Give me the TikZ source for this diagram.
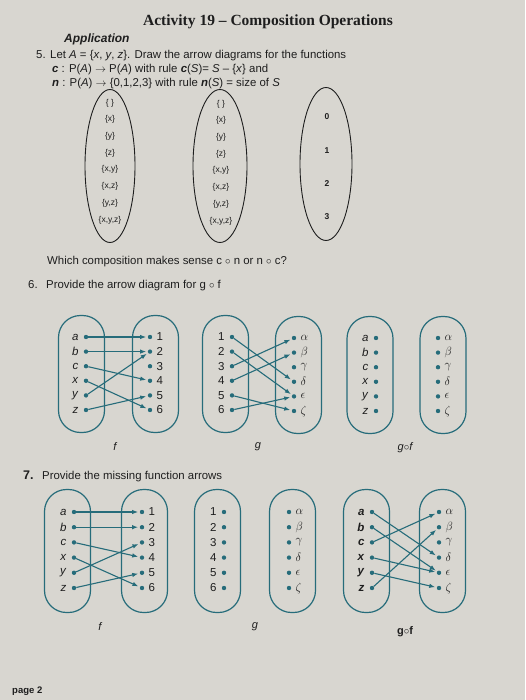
\documentclass[tikz,border=0pt]{standalone}
\usepackage{fontspec}
\setmainfont{Liberation Sans}
\newfontfamily\titlefont{Liberation Serif}
\usetikzlibrary{calc}
\usetikzlibrary{shapes,arrows,arrows.meta}
\usetikzlibrary{positioning}
\definecolor{paper}{RGB}{216,214,208}
\definecolor{setblue}{RGB}{38,108,122}
\definecolor{ink}{RGB}{30,30,30}
\tikzstyle{bag}=[draw=setblue, line width=1.2pt, rounded corners=22pt, minimum width=46pt]
\tikzstyle{elt}=[circle, fill=setblue, inner sep=0pt, minimum size=4.4pt]
\tikzstyle{mp}=[-{Latex[length=6pt,width=4.5pt]}, draw=setblue, line width=1.1pt, shorten >=1.5pt]
\tikzstyle{lbl}=[inner sep=0pt, font=\fontsize{11.5}{13}\selectfont, text=ink]
\tikzstyle{oval}=[ellipse, draw=ink, line width=0.9pt, minimum height=153pt]
\tikzstyle{setlbl}=[inner sep=0pt, font=\fontsize{8.5}{10}\selectfont, text=ink]
\tikzstyle{txt}=[anchor=base west, inner sep=0pt, font=\fontsize{11.4}{13}\selectfont, text=ink]

\begin{document}
\begin{tikzpicture}[x=1pt,y=-1pt]
\useasboundingbox (0,0) rectangle (525,700);
\fill[paper] (0,0) rectangle (525,700);

% heading and question 5
\node[font=\titlefont\bfseries\fontsize{15.5}{18}\selectfont, text=ink] (title) at (268,22) {Activity 19 – Composition Operations};
\node[txt, font=\bfseries\itshape\fontsize{12}{14}\selectfont] (appl) at (64,43) {Application};
\node[txt] (q5) at (36,59) {5.};
\node[txt] (q5a) at (50,59) {Let \textit{A} = \{\textit{x}, \textit{y}, \textit{z}\}. Draw the arrow diagrams for the functions};
\node[txt] (q5b) at (52,73) {\textbf{\textit{c}} : P(\textit{A}) $\rightarrow$ P(\textit{A}) with rule \textbf{\textit{c}}(\textit{S})= \textit{S} – \{\textit{x}\} and};
\node[txt] (q5c) at (52,87) {\textbf{\textit{n}} : P(\textit{A}) $\rightarrow$ \{0,1,2,3\} with rule \textbf{\textit{n}}(\textit{S}) = size of \textit{S}};

\node[oval, minimum width=50pt] (pa1) at (110,166) {};
\node[oval, minimum width=54pt] (pa2) at (220,166) {};
\node[oval, minimum width=52pt] (card) at (326,164) {};
\foreach \s [count=\i from 0] in {{\{ \}},{\{x\}},{\{y\}},{\{z\}},{\{x,y\}},{\{x,z\}},{\{y,z\}},{\{x,y,z\}}} {
  \node[setlbl] (pa1s\i) at (110,103+16.7*\i) {\s};
  \node[setlbl] (pa2s\i) at (221,104+16.7*\i) {\s};
}
\foreach \i in {0,...,3}
  \node[setlbl, font=\bfseries\fontsize{8.5}{10}\selectfont] (card\i) at (327,117+33.3*\i) {\i};

\node[txt] (q5d) at (47,264) {Which composition makes sense c $\circ$ n or n $\circ$ c?};

% question 6
\node[txt] (q6) at (28,288) {6.};
\node[txt] (q6a) at (46,288) {Provide the arrow diagram for g $\circ$ f};

\node[bag, minimum height=117pt] (f6dom) at (81.5,374) {};
\node[bag, minimum height=117pt] (f6cod) at (155.5,374) {};
\node[bag, minimum height=117pt] (g6dom) at (225.5,374) {};
\node[bag, minimum height=117pt] (g6cod) at (298.5,375) {};
\node[bag, minimum height=117pt] (gf6dom) at (370,375) {};
\node[bag, minimum height=117pt] (gf6cod) at (443,375) {};

\foreach \l [count=\i from 0] in {a,b,c,x,y,z} {
  \node[elt] (f6\l) at (86,337+14.6*\i) {};
  \node[lbl, left=5pt of f6\l] {\textit{\l}};
  \node[elt] (gf6\l) at (376,338+14.6*\i) {};
  \node[lbl, left=5pt of gf6\l] {\textit{\l}};
}
\foreach \i [count=\j from 0] in {1,...,6} {
  \node[elt] (f6n\i) at (150,337+14.6*\j) {};
  \node[lbl, right=4pt of f6n\i] {\i};
  \node[elt] (g6n\i) at (232,337+14.6*\j) {};
  \node[lbl, left=5pt of g6n\i] {\i};
}
\foreach \g [count=\i from 1] in {\alpha,\beta,\gamma,\delta,\epsilon,\zeta} {
  \node[elt] (g6c\i) at (294,{338+14.6*(\i-1)}) {};
  \node[lbl, right=4pt of g6c\i] {$\g$};
  \node[elt] (gf6c\i) at (438,{338+14.6*(\i-1)}) {};
  \node[lbl, right=4pt of gf6c\i] {$\g$};
}
\foreach \s/\t in {a/1,b/2,c/4,x/6,y/2,z/5}
  \draw[mp] (f6\s) -- (f6n\t);
\foreach \s/\t in {1/4,2/5,3/1,4/2,5/6,6/5}
  \draw[mp] (g6n\s) -- (g6c\t);

\node[lbl, font=\itshape\fontsize{11}{13}\selectfont] (f6name) at (115,447) {f};
\node[lbl, font=\itshape\fontsize{11}{13}\selectfont] (g6name) at (258,447) {g};
\node[lbl, font=\itshape\fontsize{11}{13}\selectfont] (gf6name) at (405,448) {g$\circ$f};

% question 7
\node[txt, font=\bfseries\fontsize{12.5}{14}\selectfont] (q7) at (23,479) {7.};
\node[txt] (q7a) at (42,479) {Provide the missing function arrows};

\node[bag, minimum height=123pt] (f7dom) at (67.5,551) {};
\node[bag, minimum height=123pt] (f7cod) at (144.5,551) {};
\node[bag, minimum height=123pt] (g7dom) at (217.5,551) {};
\node[bag, minimum height=123pt] (g7cod) at (292.5,551) {};
\node[bag, minimum height=123pt] (gf7dom) at (366.5,551) {};
\node[bag, minimum height=123pt] (gf7cod) at (442.5,551) {};

\foreach \l [count=\i from 0] in {a,b,c,x,y,z} {
  \node[elt] (f7\l) at (74,512+15.2*\i) {};
  \node[lbl, left=5pt of f7\l] {\textit{\l}};
  \node[elt] (gf7\l) at (372,512+15.2*\i) {};
  \node[lbl, left=5pt of gf7\l] {\textbf{\textit{\l}}};
}
\foreach \i [count=\j from 0] in {1,...,6} {
  \node[elt] (f7n\i) at (142,512+15.2*\j) {};
  \node[lbl, right=4pt of f7n\i] {\i};
  \node[elt] (g7n\i) at (224,512+15.2*\j) {};
  \node[lbl, left=5pt of g7n\i] {\i};
}
\foreach \g [count=\i from 1] in {\alpha,\beta,\gamma,\delta,\epsilon,\zeta} {
  \node[elt] (g7c\i) at (289,{512+15.2*(\i-1)}) {};
  \node[lbl, right=4pt of g7c\i] {$\g$};
  \node[elt] (gf7c\i) at (439,{512+15.2*(\i-1)}) {};
  \node[lbl, right=4pt of gf7c\i] {$\g$};
}
\foreach \s/\t in {a/1,b/2,c/4,x/6,y/3,z/5}
  \draw[mp] (f7\s) -- (f7n\t);
\foreach \s/\t in {a/4,b/5,c/1,x/5,y/6,z/2}
  \draw[mp] (gf7\s) -- (gf7c\t);

\node[lbl, font=\itshape\fontsize{11}{13}\selectfont] (f7name) at (100,627) {f};
\node[lbl, font=\itshape\fontsize{11}{13}\selectfont] (g7name) at (255,627) {g};
\node[lbl, font=\bfseries\fontsize{11}{13}\selectfont] (gf7name) at (405,632) {g$\circ$f};

\node[txt, font=\bfseries\fontsize{9.5}{11}\selectfont] (page) at (12,693) {page 2};
\end{tikzpicture}
\end{document}
